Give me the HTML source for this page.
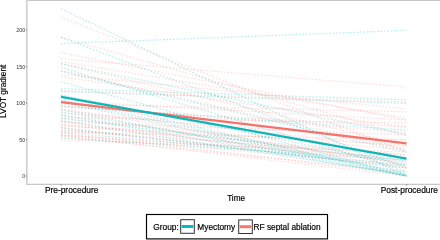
<!DOCTYPE html>
<html><head><meta charset="utf-8"><style>
html,body{margin:0;padding:0;background:#fff;width:440px;height:240px;overflow:hidden}
svg{display:block;will-change:transform}
text{font-family:"Liberation Sans",sans-serif}
</style></head><body>
<svg width="440" height="240" viewBox="0 0 440 240">
<rect x="0" y="0" width="440" height="240" fill="#fff"/>
<line x1="26" y1="0.5" x2="440" y2="0.5" stroke="#c6c6c6" stroke-width="1"/>
<g fill="none" stroke-width="1.2" stroke-dasharray="1.7 1.7">
<g stroke="#F8766D" stroke-opacity="0.24"><path d="M61.0 17.3L406.5 152"/><path d="M61.0 37.3L406.5 135.5"/><path d="M61.0 52.6L406.5 120"/><path d="M61.0 58.7L406.5 87"/><path d="M61.0 61.5L406.5 118.1"/><path d="M61.0 63.8L406.5 145.7"/><path d="M61.0 70.6L406.5 150"/><path d="M61.0 74.5L406.5 108.8"/><path d="M61.0 76.7L406.5 127.3"/><path d="M61.0 90.7L406.5 102"/><path d="M61.0 101L406.5 120"/><path d="M61.0 104L406.5 111.7"/><path d="M61.0 105.75L406.5 132.4"/><path d="M61.0 107L406.5 127"/><path d="M61.0 108.5L406.5 165"/><path d="M61.0 110.5L406.5 147.4"/><path d="M61.0 113L406.5 140"/><path d="M61.0 115.2L406.5 163.2"/><path d="M61.0 117.5L406.5 123"/><path d="M61.0 119L406.5 150"/><path d="M61.0 120.7L406.5 166.6"/><path d="M61.0 122L406.5 135"/><path d="M61.0 124L406.5 155"/><path d="M61.0 126L406.5 145"/><path d="M61.0 128L406.5 168"/><path d="M61.0 130L406.5 155"/><path d="M61.0 132L406.5 140"/><path d="M61.0 133L406.5 174"/><path d="M61.0 134.7L406.5 166"/><path d="M61.0 135.5L406.5 176"/><path d="M61.0 136.3L406.5 172"/><path d="M61.0 139.8L406.5 152"/><path d="M61.0 135L406.5 158"/><path d="M61.0 124.8L406.5 160"/><path d="M61.0 130L406.5 162"/></g>
<g stroke="#00BFC4" stroke-opacity="0.28"><path d="M61.0 8.5L406.5 176"/><path d="M61.0 37.3L406.5 168"/><path d="M61.0 43.6L406.5 30.4"/><path d="M61.0 63.6L406.5 134.7"/><path d="M61.0 67.5L406.5 171"/><path d="M61.0 71.3L406.5 152.4"/><path d="M61.0 81.8L406.5 176"/><path d="M61.0 88.7L406.5 99.8"/><path d="M61.0 91.4L406.5 103.5"/><path d="M61.0 95.5L406.5 176"/><path d="M61.0 100L406.5 174"/><path d="M61.0 102L406.5 176"/><path d="M61.0 106L406.5 130.1"/><path d="M61.0 109.5L406.5 176"/><path d="M61.0 112L406.5 172"/><path d="M61.0 115L406.5 176"/><path d="M61.0 118L406.5 161"/><path d="M61.0 121L406.5 175"/><path d="M61.0 127.5L406.5 168"/><path d="M61.0 132L406.5 165"/><path d="M61.0 94.9L406.5 165"/><path d="M61.0 138L406.5 160"/></g>
</g>
<line x1="61.0" y1="102.2" x2="406.5" y2="143.3" stroke="#F4736B" stroke-width="2.2"/>
<line x1="61.0" y1="96.9" x2="406.5" y2="158.6" stroke="#10B5B8" stroke-width="2.4"/>
<line x1="26.8" y1="0" x2="26.8" y2="184.8" stroke="#d2d2d2" stroke-width="1.8"/>
<line x1="26" y1="184.3" x2="440" y2="184.3" stroke="#c8c8c8" stroke-width="1.3"/>
<g fill="#888">
<rect x="26" y="175.5" width="1.2" height="1.2"/><rect x="26" y="139" width="1.2" height="1.2"/><rect x="26" y="102.5" width="1.2" height="1.2"/><rect x="26" y="66" width="1.2" height="1.2"/><rect x="26" y="29.5" width="1.2" height="1.2"/>
<rect x="60.5" y="184.2" width="1.2" height="1.2"/><rect x="406" y="184.2" width="1.2" height="1.2"/>
</g>
<g fill="#333" font-size="5.4" text-anchor="end">
<text x="25.3" y="178.4">0</text>
<text x="25.3" y="141.9">50</text>
<text x="25.3" y="105.4">100</text>
<text x="25.3" y="68.9">150</text>
<text x="25.3" y="32.4">200</text>
</g>
<g fill="#000" font-size="8.2" stroke="#000" stroke-width="0.18">
<text transform="translate(6.2,91.3) rotate(-90)" text-anchor="middle" font-size="8.3">LVOT gradient</text>
<text x="44.9" y="193.1" font-size="8.38">Pre-procedure</text>
<text x="380.7" y="193.3" font-size="8.38">Post-procedure</text>
<text x="236.1" y="201.3" text-anchor="middle">Time</text>
</g>
<rect x="146.5" y="214.5" width="181" height="24.4" fill="none" stroke="#000" stroke-width="1.15"/>
<g fill="#000" font-size="8.32" stroke="#000" stroke-width="0.18">
<text x="153.3" y="230.2">Group:</text>
<text x="197.3" y="230.2">Myectomy</text>
<text x="253.5" y="230.2">RF septal ablation</text>
</g>
<rect x="180.7" y="219.7" width="13.6" height="13.6" fill="none" stroke="#333" stroke-width="1"/>
<line x1="181.6" y1="226.5" x2="193.4" y2="226.5" stroke="#00BFC4" stroke-width="3"/>
<rect x="238.7" y="219.9" width="13.6" height="13.6" fill="none" stroke="#333" stroke-width="1"/>
<line x1="239.6" y1="226.7" x2="251.4" y2="226.7" stroke="#F8766D" stroke-width="3"/>
</svg>
</body></html>
